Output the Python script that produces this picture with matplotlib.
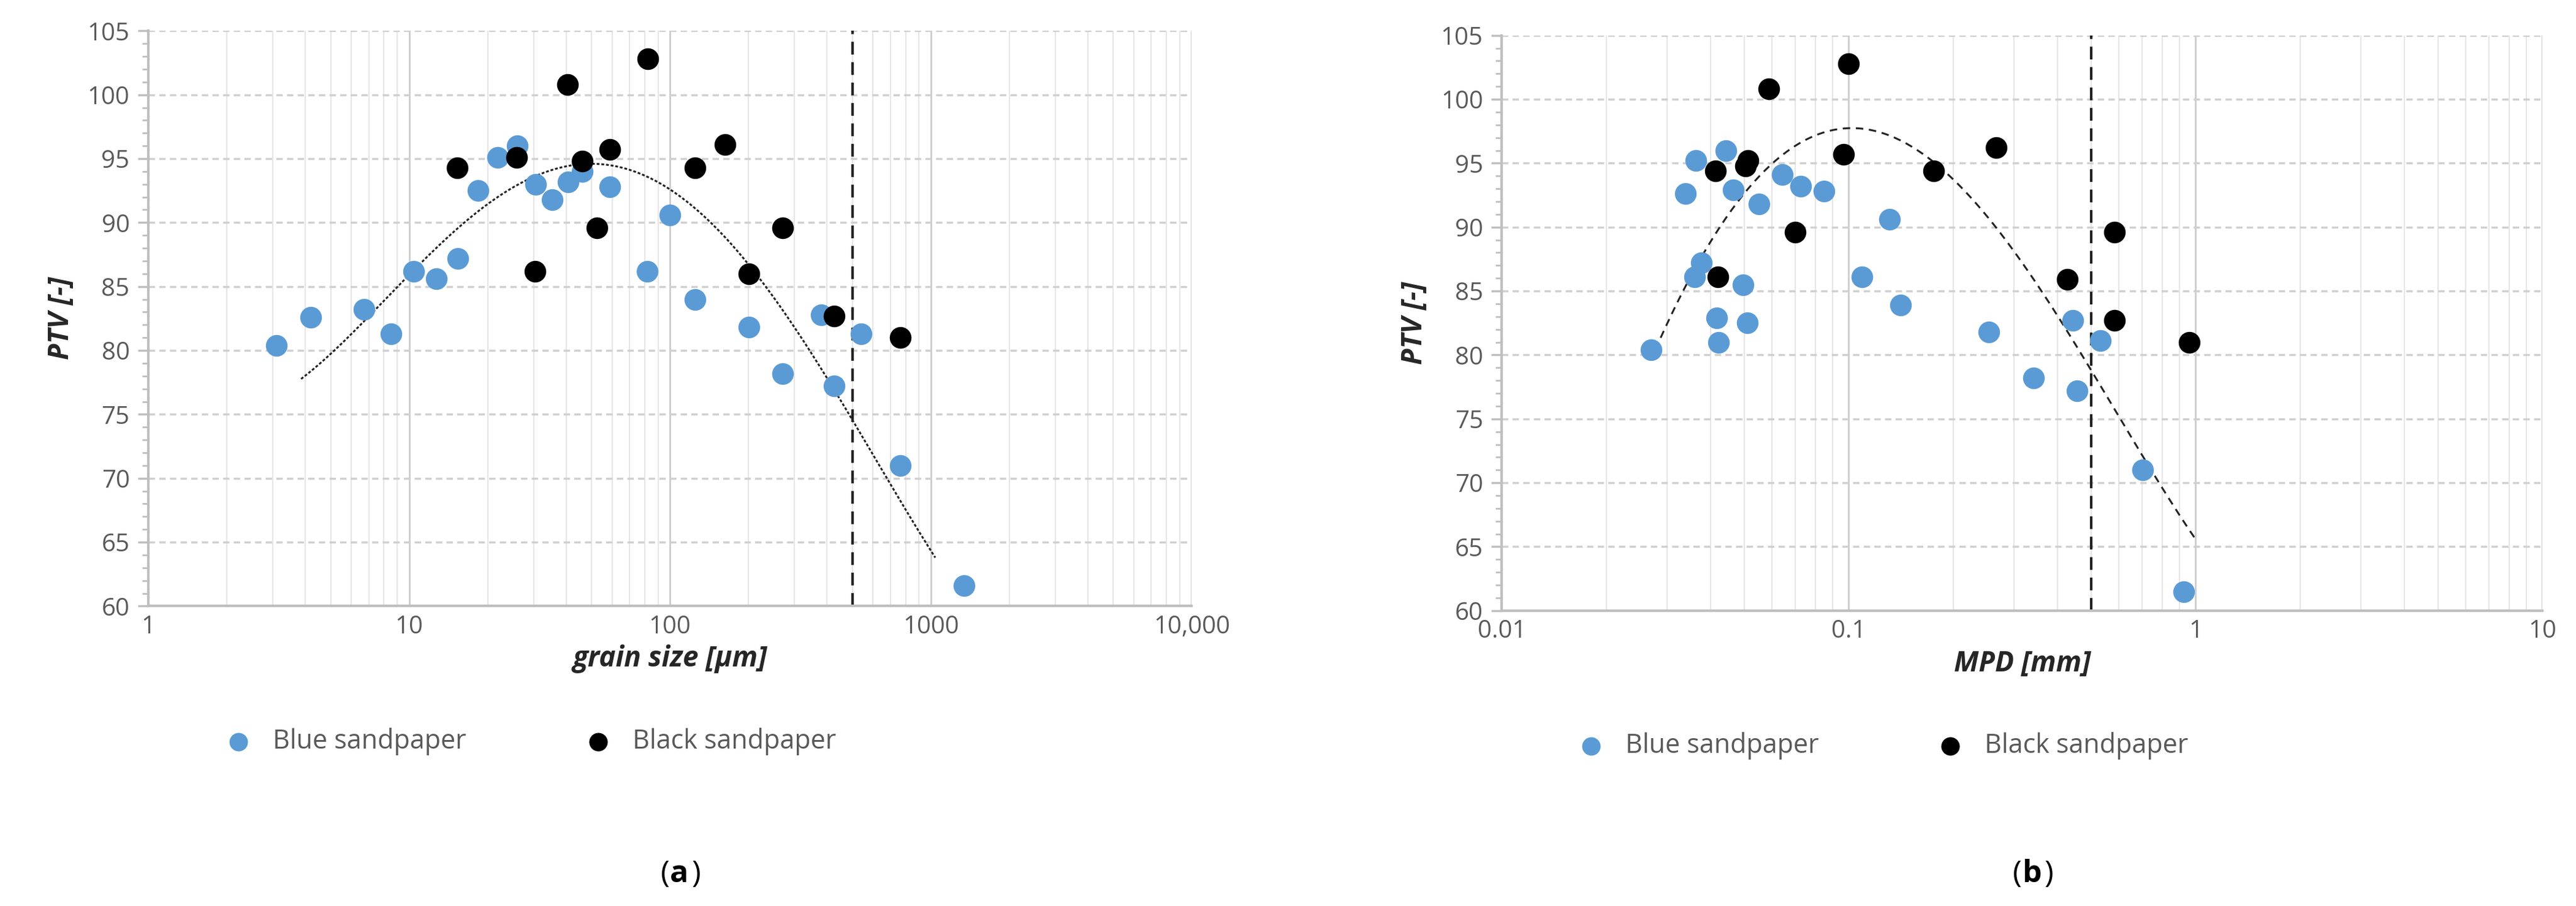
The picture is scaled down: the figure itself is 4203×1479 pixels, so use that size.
import numpy as np
import matplotlib.pyplot as plt
from matplotlib.ticker import FixedLocator, LogLocator, NullFormatter, MultipleLocator

plt.rcParams['font.family'] = ['Open Sans', 'DejaVu Sans']

# panel (a): grain size [um] vs PTV
a_blue_x = [3.1, 4.2, 6.7, 8.5, 10.4, 12.7, 15.4, 18.4, 21.8, 26, 30.6, 35.3, 40.7, 46.1, 58.9,
            81.9, 100, 125, 201, 271, 380, 425, 539, 764, 1340]
a_blue_y = [80.4, 82.6, 83.2, 81.3, 86.2, 85.6, 87.2, 92.5, 95.1, 96.0, 93.0, 91.8, 93.2, 94.0, 92.8,
            86.2, 90.6, 84.0, 81.8, 78.2, 82.8, 77.2, 81.3, 71.0, 61.6]
a_black_x = [15.3, 25.8, 30.4, 40.5, 46, 52.6, 58.9, 82, 125, 163, 201, 271, 425, 764]
a_black_y = [94.3, 95.1, 86.2, 100.8, 94.8, 89.6, 95.7, 102.8, 94.3, 96.1, 86.0, 89.6, 82.7, 81.0]
a_trend_x = [3.85, 6.5, 10.4, 18.4, 32.9, 57.6, 101, 167, 275, 513, 750, 1040]
a_trend_y = [77.6, 82.3, 86.2, 91.1, 93.6, 94.1, 92.7, 89.0, 83.2, 74.0, 67.8, 64.3]
a_limit = 500

# panel (b): MPD [mm] vs PTV
b_blue_x = [0.0269, 0.0339, 0.0362, 0.0359, 0.0376, 0.0417, 0.0421, 0.0443, 0.0464, 0.0496, 0.0510,
            0.0552, 0.0644, 0.0728, 0.0849, 0.109, 0.131, 0.141, 0.254, 0.341, 0.443, 0.456, 0.532,
            0.705, 0.923]
b_blue_y = [80.4, 92.6, 95.2, 86.1, 87.2, 82.9, 81.0, 96.0, 92.9, 85.5, 82.5,
            91.8, 94.1, 93.2, 92.8, 86.1, 90.6, 83.9, 81.8, 78.2, 82.7, 77.2, 81.1,
            71.0, 61.5]
b_black_x = [0.0413, 0.0419, 0.0505, 0.0512, 0.0589, 0.0701, 0.0965, 0.100, 0.176, 0.266, 0.426,
             0.583, 0.583, 0.959]
b_black_y = [94.4, 86.1, 94.8, 95.2, 100.8, 89.6, 95.7, 102.8, 94.4, 96.2, 85.9, 89.6, 82.7, 81.0]
b_trend_x = [0.0277, 0.0359, 0.0475, 0.063, 0.1, 0.16, 0.255, 0.389, 0.593, 0.82, 1.01]
b_trend_y = [80.7, 86.2, 91.8, 95.5, 98.2, 95.8, 90.3, 83.5, 75.5, 69.6, 65.1]
b_limit = 0.5

blue = '#5b9bd5'
fig = plt.figure(figsize=(42.03, 14.79), dpi=100)
ax1 = fig.add_axes([0.0576, 0.331, 0.405, 0.635])
ax2 = fig.add_axes([0.583, 0.326, 0.404, 0.635])

panels = [
    (ax1, a_blue_x, a_blue_y, a_black_x, a_black_y, a_trend_x, a_trend_y, a_limit,
     (1, 10000), [1, 10, 100, 1000, 10000], ['1', '10', '100', '1000', '10,000'],
     'grain size [µm]', '(a)', (0, (1.5, 1))),
    (ax2, b_blue_x, b_blue_y, b_black_x, b_black_y, b_trend_x, b_trend_y, b_limit,
     (0.01, 10), [0.01, 0.1, 1, 10], ['0.01', '0.1', '1', '10'],
     'MPD [mm]', '(b)', (0, (4, 3))),
]

for ax, bx, by, kx, ky, tx, ty, lim, xl, ticks, tlabels, xlabel, tag, tls in panels:
    ax.set_xscale('log')
    ax.set_xlim(*xl)
    ax.set_ylim(60, 105)
    ax.scatter(bx, by, s=650, color=blue, label='Blue sandpaper', zorder=3, linewidths=0)
    ax.scatter(kx, ky, s=650, color='black', label='Black sandpaper', zorder=3, linewidths=0)
    # smooth the trend line
    lt = np.log10(tx)
    coef = np.polyfit(lt, ty, 4)
    xs = np.linspace(lt[0], lt[-1], 200)
    ax.plot(10 ** xs, np.polyval(coef, xs), color='#222222', lw=2.2, ls=tls, zorder=2)
    ax.axvline(lim, color='#222222', lw=3, ls=(0, (5, 3)), zorder=2)

    ax.xaxis.set_major_locator(FixedLocator(ticks))
    ax.set_xticklabels(tlabels)
    ax.xaxis.set_minor_locator(LogLocator(base=10, subs=np.arange(2, 10)))
    ax.xaxis.set_minor_formatter(NullFormatter())
    ax.yaxis.set_major_locator(MultipleLocator(5))
    ax.yaxis.set_minor_locator(MultipleLocator(1))
    ax.grid(True, which='major', axis='x', color='#cccccc', lw=2)
    ax.grid(True, which='minor', axis='x', color='#e6e6e6', lw=1.5)
    ax.grid(True, which='major', axis='y', color='#d0d0d0', lw=2.5, ls=(0, (3, 2)))
    ax.set_axisbelow(True)

    for s in ['top', 'right']:
        ax.spines[s].set_visible(False)
    ax.spines['left'].set_color('#bfbfbf')
    ax.spines['bottom'].set_color('#bfbfbf')
    ax.spines['left'].set_linewidth(3)
    ax.spines['bottom'].set_linewidth(3)
    ax.tick_params(axis='both', which='major', labelsize=29, colors='#595959', length=12, width=2.5,
                   direction='out', pad=10)
    ax.tick_params(axis='x', which='major', length=0, labelcolor='#595959')
    ax.tick_params(axis='x', which='minor', length=0)
    ax.tick_params(axis='y', which='minor', length=7, width=2, colors='#bfbfbf')
    ax.tick_params(axis='y', which='major', color='#bfbfbf', labelcolor='#595959')

    ax.set_xlabel(xlabel, fontsize=33, fontweight='bold', fontstyle='italic', color='#262626', labelpad=6)
    ax.set_ylabel('PTV [-]', fontsize=33, fontweight='bold', fontstyle='italic', color='#262626', labelpad=14)
    ax.legend(loc='upper center', bbox_to_anchor=(0.36, -0.17), ncol=2, frameon=False,
              fontsize=31, labelcolor='#595959', columnspacing=4, handletextpad=0.3,
              markerscale=0.85)
    cx = ax.get_position().x0 + ax.get_position().width / 2
    fig.text(cx, 0.035, tag[0], ha='right', va='center', fontsize=36)
    fig.text(cx, 0.035, tag[1], ha='left', va='center', fontsize=36, fontweight='bold')
    fig.text(cx + 0.0085, 0.035, tag[2], ha='left', va='center', fontsize=36)

fig.savefig('out.png', dpi=100)
